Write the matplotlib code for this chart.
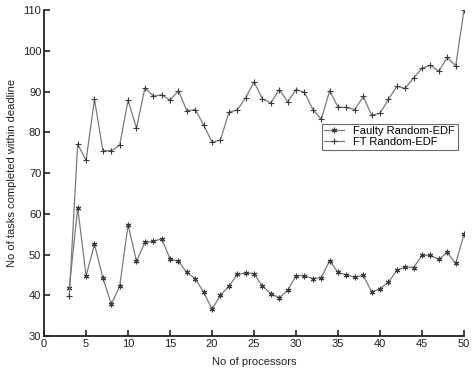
import numpy as np
import matplotlib
matplotlib.use("Agg")
import matplotlib.pyplot as plt

plt.rcParams['font.family'] = ['Liberation Sans', 'DejaVu Sans']

processors = np.arange(3, 51)

faulty_edf = [41.8, 61.5, 44.8, 52.5, 44.3, 37.8, 42.2, 57.3, 48.3, 53.0,
              53.2, 53.9, 48.9, 48.3, 45.6, 44.1, 40.7, 36.6, 40.0, 42.2,
              45.1, 45.5, 45.3, 42.2, 40.4, 39.4, 41.2, 44.8, 44.8, 44.1,
              44.3, 48.5, 45.6, 45.0, 44.4, 44.9, 40.8, 41.6, 43.2, 46.1,
              47.0, 46.8, 49.8, 49.8, 48.8, 50.5, 47.8, 55.0]

ft_edf = [39.8, 77.1, 73.1, 88.1, 75.5, 75.5, 76.8, 87.9, 81.0, 90.9,
          88.9, 89.2, 87.9, 90.2, 85.3, 85.6, 81.8, 77.6, 78.1, 84.9,
          85.5, 88.5, 92.4, 88.2, 87.2, 90.5, 87.5, 90.5, 89.8, 85.6,
          83.2, 90.2, 86.2, 86.1, 85.6, 88.8, 84.2, 84.7, 88.1, 91.3,
          90.8, 93.4, 95.7, 96.5, 95.0, 98.4, 96.3, 110.0]

xticks = np.arange(0, 51, 5)
yticks = np.arange(30, 111, 10)

fig = plt.figure(figsize=(4.74, 3.75), dpi=100)
ax = fig.add_axes([0.093, 0.104, 0.886, 0.869])

line_col = '#7a7a7a'
mark_col = '#3a3a3a'
ax.plot(processors, faulty_edf, color=line_col, lw=0.9, marker=(6, 2, 0),
        ms=4, mec=mark_col, mew=0.8, label='Faulty Random-EDF')
ax.plot(processors, ft_edf, color=line_col, lw=0.9, marker='+',
        ms=5, mec=mark_col, mew=0.8, label='FT Random-EDF')

ax.set_xlim(0, 50)
ax.set_ylim(30, 110)
ax.set_xticks(xticks)
ax.set_yticks(yticks)
ax.spines['top'].set_visible(False)
ax.spines['right'].set_visible(False)
for s in ['left', 'bottom']:
    ax.spines[s].set_linewidth(1.3)
    ax.spines[s].set_color('#222222')
ax.tick_params(direction='in', length=4, width=1.2, labelsize=8,
               colors='#222222', pad=2)
ax.set_xlabel('No of processors', fontsize=8, color='#222222', labelpad=6)
ax.set_ylabel('No of tasks completed within deadline', fontsize=8,
              color='#222222', labelpad=4)

leg = ax.legend(loc='upper right', bbox_to_anchor=(0.985, 0.652),
                fontsize=8, frameon=True, fancybox=False, borderpad=0.25,
                handlelength=1.8, labelspacing=0.05, borderaxespad=0)
leg.get_frame().set_edgecolor('#444444')
leg.get_frame().set_linewidth(0.8)

fig.savefig('out.png', dpi=100)
